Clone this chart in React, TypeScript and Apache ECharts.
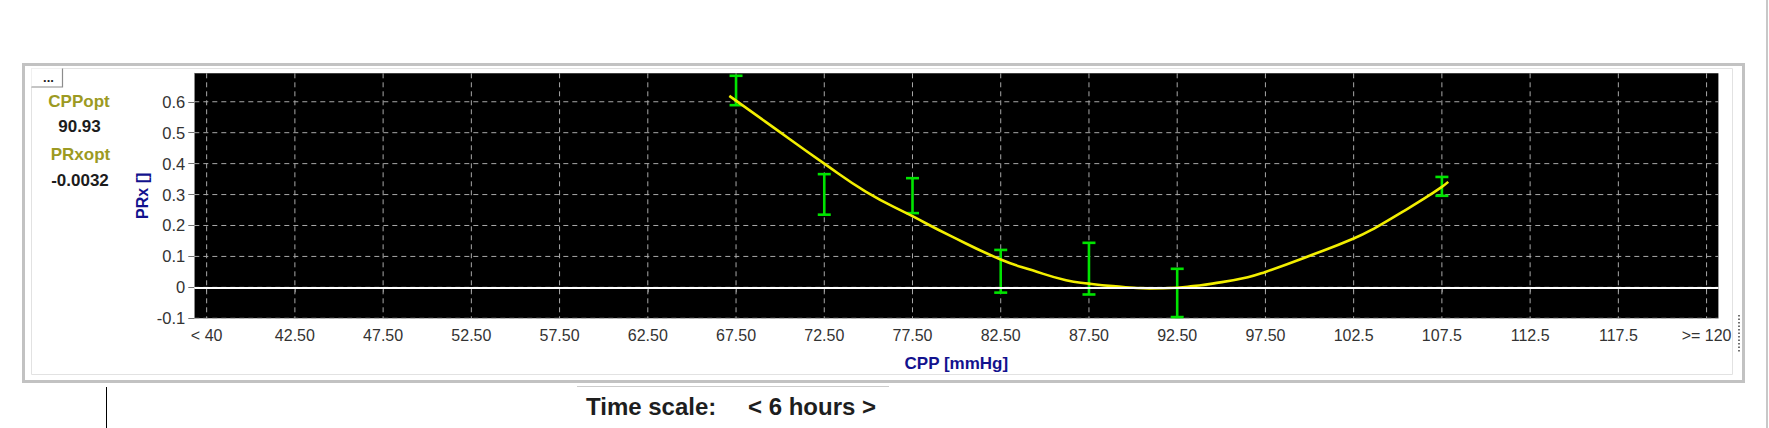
import React, { useEffect, useRef } from 'react';
import * as echarts from 'echarts';

// ---- data ----
const xTickValues = [37.5, 42.5, 47.5, 52.5, 57.5, 62.5, 67.5, 72.5, 77.5, 82.5, 87.5, 92.5, 97.5, 102.5, 107.5, 112.5, 117.5, 122.5];
const xTickLabels = ['< 40', '42.50', '47.50', '52.50', '57.50', '62.50', '67.50', '72.50', '77.50', '82.50', '87.50', '92.50', '97.50', '102.5', '107.5', '112.5', '117.5', '>= 120'];
const yTickValues = [-0.1, 0, 0.1, 0.2, 0.3, 0.4, 0.5, 0.6];
const yTickLabels = ['-0.1', '0', '0.1', '0.2', '0.3', '0.4', '0.5', '0.6'];

// error bars (bin centre, low, high)
const binCenters = [67.5, 72.5, 77.5, 82.5, 87.5, 92.5, 107.5];
const prxLow = [0.589, 0.235, 0.240, -0.017, -0.023, -0.096, 0.296];
const prxHigh = [0.684, 0.366, 0.353, 0.121, 0.144, 0.060, 0.357];

// fitted curve
const fitCpp = [67.12, 69.18, 72.5, 74.87, 77.5, 79.6, 82.5, 84.3, 86.2, 87.5, 88.85, 90.93, 92.5, 93.4, 94.5, 96.5, 97.5, 99.9, 102.5, 103.8, 105.12, 106.44, 107.5, 107.86];
const fitPrx = [0.619, 0.535, 0.400, 0.309, 0.230, 0.168, 0.090, 0.055, 0.023, 0.012, 0.004, -0.0032, -0.001, 0.004, 0.012, 0.033, 0.050, 0.100, 0.158, 0.195, 0.239, 0.285, 0.325, 0.341];

const optLabels = ['CPPopt', 'PRxopt'];
const optValues = ['90.93', '-0.0032'];
const timeScaleLabel = 'Time scale:';
const timeScaleValue = '< 6 hours >';

const W = 1769;
const H = 428;
const FONT = '"Liberation Sans", Arial, sans-serif';
const X_MIN = 36.8;
const X_MAX = 123.17;
const Y_MIN = -0.1;
const Y_MAX = 0.692;

function labelFor(values: number[], labels: string[], v: number): string {
  const i = values.findIndex((t) => Math.abs(t - v) < 1e-6);
  return i >= 0 ? labels[i] : '';
}

export default function App() {
  const ref = useRef<HTMLDivElement>(null);
  useEffect(() => {
    document.body.style.margin = '0';
    if (!ref.current) return;
    const chart = echarts.init(ref.current, null, { renderer: 'svg' });

    const plotL = 194.3, plotR = 1718.4, plotT = 73.3, plotB = 318.3;
    const grey = '#a8a8a8';
    const green = '#00e400';
    const dash = [5, 4];

    const option: any = {
      animation: false,
      backgroundColor: '#ffffff',
      textStyle: { fontFamily: FONT },
      grid: {
        left: plotL,
        right: W - plotR,
        top: plotT,
        bottom: H - plotB,
        show: true,
        backgroundColor: '#000000',
        borderWidth: 0,
        containLabel: false,
        outerBoundsMode: 'none',
      },
      xAxis: {
        type: 'value',
        min: X_MIN,
        max: X_MAX,
        axisLine: { show: false },
        axisTick: { show: true, customValues: xTickValues, length: 5, lineStyle: { color: '#707070' } },
        axisLabel: {
          customValues: xTickValues,
          formatter: (v: number) => labelFor(xTickValues, xTickLabels, v),
          color: '#333333',
          fontSize: 16,
          fontFamily: FONT,
          margin: 9,
        },
        splitLine: { show: false },
        name: 'CPP [mmHg]',
        nameLocation: 'middle',
        nameGap: 37,
        nameMoveOverlap: false,
        nameTextStyle: { color: '#12128e', fontWeight: 'bold', fontSize: 17, fontFamily: FONT },
      },
      yAxis: {
        type: 'value',
        min: Y_MIN,
        max: Y_MAX,
        axisLine: { show: true, lineStyle: { color: '#8a8a8a', width: 1 } },
        axisTick: { show: true, customValues: yTickValues, length: 6, lineStyle: { color: '#707070' } },
        axisLabel: {
          customValues: yTickValues,
          formatter: (v: number) => labelFor(yTickValues, yTickLabels, v),
          color: '#333333',
          fontSize: 16.5,
          fontFamily: FONT,
          margin: 9,
        },
        splitLine: { show: false },
        name: 'PRx []',
        nameLocation: 'middle',
        nameRotate: 90,
        nameGap: 44,
        nameMoveOverlap: false,
        nameTextStyle: { color: '#12128e', fontWeight: 'bold', fontSize: 16, fontFamily: FONT },
      },
      series: [
        // vertical dashed grid lines at the x ticks
        {
          type: 'custom',
          name: 'xgrid',
          silent: true,
          z: 1,
          data: xTickValues.map((v) => [v, Y_MIN]),
          encode: { x: 0, y: 1 },
          renderItem: (params: any, api: any) => {
            const cs = params.coordSys;
            const x = api.coord([api.value(0), 0])[0];
            return {
              type: 'line',
              shape: { x1: x, y1: cs.y, x2: x, y2: cs.y + cs.height },
              style: { stroke: grey, lineWidth: 1, lineDash: dash },
            };
          },
        },
        // horizontal dashed grid lines at the y ticks
        {
          type: 'custom',
          name: 'ygrid',
          silent: true,
          z: 1,
          data: yTickValues.map((v) => [X_MIN, v]),
          encode: { x: 0, y: 1 },
          renderItem: (params: any, api: any) => {
            const cs = params.coordSys;
            const y = api.coord([X_MIN, api.value(1)])[1];
            return {
              type: 'line',
              shape: { x1: cs.x, y1: y, x2: cs.x + cs.width, y2: y },
              style: { stroke: grey, lineWidth: 1, lineDash: dash },
            };
          },
        },
        {
          type: 'custom',
          name: 'PRx range',
          z: 2,
          data: binCenters.map((c, i) => [c, prxLow[i], prxHigh[i]]),
          encode: { x: 0, y: [1, 2] },
          renderItem: (params: any, api: any) => {
            const x = api.value(0);
            const lo = api.coord([x, api.value(1)]);
            const hi = api.coord([x, api.value(2)]);
            const hw = 6.5;
            const style = { stroke: green, lineWidth: 2.6 };
            return {
              type: 'group',
              children: [
                { type: 'line', shape: { x1: lo[0], y1: hi[1], x2: lo[0], y2: lo[1] }, style },
                { type: 'line', shape: { x1: lo[0] - hw, y1: hi[1], x2: lo[0] + hw, y2: hi[1] }, style },
                { type: 'line', shape: { x1: lo[0] - hw, y1: lo[1], x2: lo[0] + hw, y2: lo[1] }, style },
              ],
            };
          },
        },
        {
          type: 'line',
          name: 'fit',
          z: 3,
          data: fitCpp.map((c, i) => [c, fitPrx[i]]),
          showSymbol: false,
          symbol: 'none',
          smooth: 0.5,
          lineStyle: { color: '#f2ee00', width: 2.6 },
        },
        {
          type: 'line',
          name: 'zero',
          z: 4,
          data: [],
          markLine: {
            silent: true,
            symbol: ['none', 'none'],
            label: { show: false },
            lineStyle: { color: '#ffffff', type: 'solid', width: 2.2 },
            data: [{ yAxis: 0 }],
          },
        },
      ],
      graphic: [
        // outer panel frame
        { type: 'rect', z: -1, shape: { x: 23.5, y: 64.5, width: 1720, height: 317 }, style: { fill: 'none', stroke: '#c2c2c2', lineWidth: 3 } },
        { type: 'rect', z: -1, shape: { x: 31.5, y: 68.5, width: 1701, height: 306 }, style: { fill: 'none', stroke: '#e2e2e2', lineWidth: 1 } },
        // "..." button
        { type: 'rect', shape: { x: 31.5, y: 68.5, width: 31, height: 18.5 }, style: { fill: '#ffffff', stroke: 'none' } },
        { type: 'polyline', shape: { points: [[31.5, 87], [62.5, 87], [62.5, 68.5]] }, style: { stroke: '#8c8c8c', lineWidth: 1.2, fill: 'none' } },
        { type: 'text', x: 48.5, y: 77.5, style: { text: '...', fill: '#222222', font: `bold 13px ${FONT}`, textAlign: 'center', textVerticalAlign: 'middle' } },
        // optimum read-outs
        { type: 'text', x: 79, y: 101.7, style: { text: optLabels[0], fill: '#9c9a22', font: `bold 17px ${FONT}`, textAlign: 'center', textVerticalAlign: 'middle' } },
        { type: 'text', x: 79.5, y: 126.7, style: { text: optValues[0], fill: '#1c1c1c', font: `bold 17px ${FONT}`, textAlign: 'center', textVerticalAlign: 'middle' } },
        { type: 'text', x: 80.5, y: 154.3, style: { text: optLabels[1], fill: '#9c9a22', font: `bold 17px ${FONT}`, textAlign: 'center', textVerticalAlign: 'middle' } },
        { type: 'text', x: 80, y: 180, style: { text: optValues[1], fill: '#1c1c1c', font: `bold 17px ${FONT}`, textAlign: 'center', textVerticalAlign: 'middle' } },
        // resize grip
        { type: 'line', shape: { x1: 1739, y1: 315, x2: 1739, y2: 352 }, style: { stroke: '#707070', lineWidth: 2, lineDash: [1.5, 2] } },
        // far-right divider
        { type: 'line', shape: { x1: 1767, y1: 0, x2: 1767, y2: H }, style: { stroke: '#c8c8c8', lineWidth: 2 } },
        // time scale line + texts
        { type: 'line', shape: { x1: 577, y1: 386.5, x2: 889, y2: 386.5 }, style: { stroke: '#cccccc', lineWidth: 1 } },
        { type: 'line', shape: { x1: 106.5, y1: 387, x2: 106.5, y2: H }, style: { stroke: '#000000', lineWidth: 1 } },
        { type: 'text', x: 586, y: 406.5, style: { text: timeScaleLabel, fill: '#1e1e1e', font: `bold 24px ${FONT}`, textAlign: 'left', textVerticalAlign: 'middle' } },
        { type: 'text', x: 748, y: 406.5, style: { text: timeScaleValue, fill: '#1e1e1e', font: `bold 24px ${FONT}`, textAlign: 'left', textVerticalAlign: 'middle' } },
      ],
    };

    chart.setOption(option);
    return () => chart.dispose();
  }, []);

  return <div ref={ref} style={{ width: W, height: H }} />;
}
